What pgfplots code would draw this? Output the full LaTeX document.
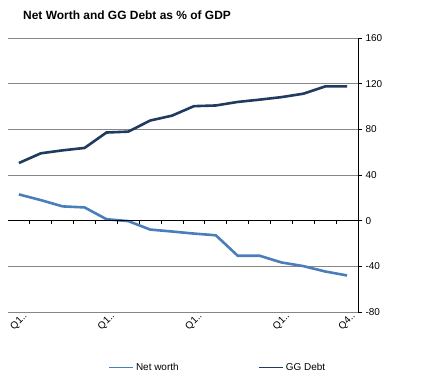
\documentclass[border=0pt]{standalone}
\usepackage{pgfplots}
\pgfplotsset{compat=1.18}
\usepackage{fontspec}
\setmainfont{Liberation Sans}
\definecolor{nw}{HTML}{4A7EBB}
\definecolor{gg}{HTML}{1F3B60}
\definecolor{gridc}{HTML}{868686}
\begin{document}
\begin{tikzpicture}
\useasboundingbox (-8bp,-74bp) rectangle (434bp,312bp);
\pgfplotsset{myaxis/.style={scale only axis, width=350bp, height=274bp,
  xmin=-0.5, xmax=15.5, ymin=-80, ymax=160, clip=false}}
\begin{axis}[myaxis, axis y line*=right, hide x axis,
  ytick={-80,-40,...,160}, ymajorgrids,
  grid style={gridc, line width=0.8bp},
  y axis line style={black, line width=0.8bp, -},
  ytick style={black, line width=0.8bp},
  tick align=outside, major tick length=4bp,
  yticklabel style={font=\fontsize{10}{12}\selectfont, anchor=west},
  /pgf/number format/assume math mode=true,
  legend style={at={(0.6,-0.204)}, anchor=center, draw=none, fill=none,
    legend columns=2, font=\fontsize{10}{12}\selectfont,
    /tikz/column 2/.style={column sep=78bp}},
  legend image code/.code={\draw[#1, line width=1.2bp] (0bp,0bp) -- (24bp,0bp);}]
\addplot[nw, line width=2.6bp] coordinates {(0,23)(1,18)(2,12.5)(3,11.6)(4,1.3)(5,-0.4)(6,-7.8)(7,-9.5)(8,-11.3)(9,-12.8)(10,-30.7)(11,-30.7)(12,-36.6)(13,-39.8)(14,-44.5)(15,-48)};
\addlegendentry{Net worth}
\addplot[gg, line width=2.6bp] coordinates {(0,50.5)(1,59)(2,61.6)(3,63.7)(4,77.2)(5,78)(6,87.7)(7,92)(8,100.3)(9,100.9)(10,104)(11,106)(12,108.2)(13,111.2)(14,117.6)(15,117.6)};
\addlegendentry{GG Debt}
\end{axis}
\begin{axis}[myaxis, hide y axis, axis x line*=middle,
  xtick={-0.5,0.5,...,15.5}, xticklabels={},
  x axis line style={black, line width=0.8bp, -},
  every inner x axis line/.append style={-},
  xtick style={black, line width=0.8bp},
  tick align=outside, major tick length=3bp]
\addplot[draw=none] coordinates {(0,0)};
\end{axis}
\begin{axis}[myaxis, hide y axis, axis x line*=bottom,
  x axis line style={draw=none},
  xtick={0,4,8,12,15}, xticklabels={Q1..,Q1..,Q1..,Q1..,Q4..},
  major tick length=0bp,
  xticklabel style={rotate=45, anchor=east, xshift=6bp, yshift=-7bp, font=\fontsize{10}{12}\selectfont}]
\addplot[draw=none] coordinates {(0,0)};
\end{axis}
\node[anchor=west, inner sep=0pt, font=\bfseries\fontsize{12}{14}\selectfont] at (15bp,297bp) {Net Worth and GG Debt as \% of GDP};
\end{tikzpicture}
\end{document}
